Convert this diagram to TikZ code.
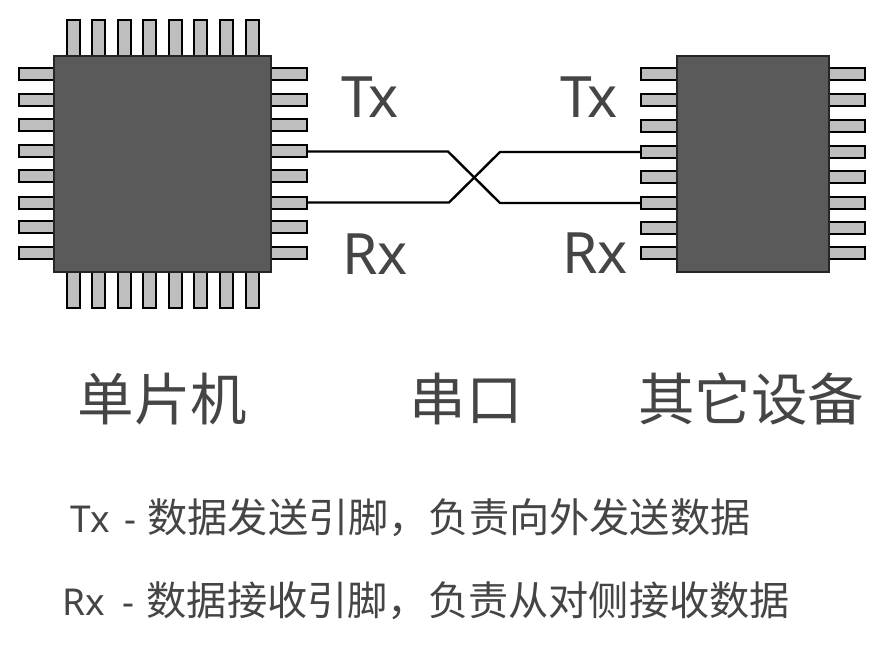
\documentclass[tikz,border=0pt]{standalone}
\usepackage{fontspec}
\setmainfont{Noto Sans}
\newfontfamily\cjk{Noto Sans CJK SC}
\usetikzlibrary{positioning}
\definecolor{chipgray}{HTML}{5A5A5A}
\definecolor{pingray}{HTML}{BEBEBE}
\definecolor{textgray}{HTML}{454545}
\tikzset{
  chip/.style={draw=black!85, line width=2pt, fill=chipgray, inner sep=0pt},
  hpin/.style={draw=black, line width=2pt, fill=pingray, inner sep=0pt, minimum width=36pt, minimum height=12pt},
  vpin/.style={draw=black, line width=2pt, fill=pingray, inner sep=0pt, minimum width=13pt, minimum height=36pt},
  wire/.style={draw=black, line width=2.4pt},
  pinlabel/.style={text=textgray, inner sep=0pt, font=\fontsize{57}{60}\selectfont},
  title/.style={text=textgray, inner sep=0pt, font=\cjk\fontsize{56.5}{60}\selectfont},
  note/.style={text=textgray, inner sep=0pt, anchor=west, font=\fontsize{40}{44}\selectfont}
}
\begin{document}
\begin{tikzpicture}[x=1pt, y=-1pt]
    \useasboundingbox (0,0) rectangle (882,647);
    % Pins of the left chip
    \foreach \py [count=\i] in {74,100,125,151.5,176,202.5,227,253} {
      \node [hpin] (mcuL\i) at (37,\py) {};
      \node [hpin] (mcuR\i) at (288.5,\py) {};
    }
    \foreach \px [count=\i] in {73.5,98.5,124,149.5,175,200.5,226,252} {
      \node [vpin] (mcuT\i) at (\px,38) {};
      \node [vpin] (mcuB\i) at (\px,289.5) {};
    }
    % Pins of the right chip
    \foreach \py [count=\i] in {74,100.5,126,152,177,203,227.5,253} {
      \node [hpin] (devL\i) at (659,\py) {};
      \node [hpin] (devR\i) at (847,\py) {};
    }
    % Chips
    \node [chip, minimum width=216.7pt, minimum height=215.7pt] (mcu) at (162.6,163.8) {};
    \node [chip, minimum width=152pt, minimum height=216pt] (dev) at (753,164) {};
    % Wires
    \coordinate (txa) at (448,151.5);
    \coordinate (txb) at (500,203);
    \coordinate (rxa) at (449,202.5);
    \coordinate (rxb) at (500,152);
    \draw [wire] (mcuR4.east) -- (txa) -- (txb) -- (devL6.west);
    \draw [wire] (mcuR6.east) -- (rxa) -- (rxb) -- (devL4.west);
    % Labels
    \node [pinlabel] (txL) at (370,97.5) {T\kern-5pt x};
    \node [pinlabel] (txR) at (589,97) {T\kern-5pt x};
    \node [pinlabel] (rxL) at (375,254) {Rx};
    \node [pinlabel] (rxR) at (595,253) {Rx};
    \node [title] (mcuname) at (162.5,399) {单片机};
    \node [title] (serial) at (466,399) {串口};
    \node [title] (devname) at (751,399) {其它设备};
    \node [note] (txnote) at (70,518) {\fontsize{37}{44}\selectfont Tx\hspace{15pt}-\hspace{11pt}\fontsize{40.2}{44}\selectfont\cjk 数据发送引脚，负责向外发送数据};
    \node [note] (rxnote) at (62,601) {\fontsize{37}{44}\selectfont Rx\hspace{18pt}-\hspace{12pt}\fontsize{40.2}{44}\selectfont\cjk 数据接收引脚，负责从对侧接收数据};
\end{tikzpicture}
\end{document}
